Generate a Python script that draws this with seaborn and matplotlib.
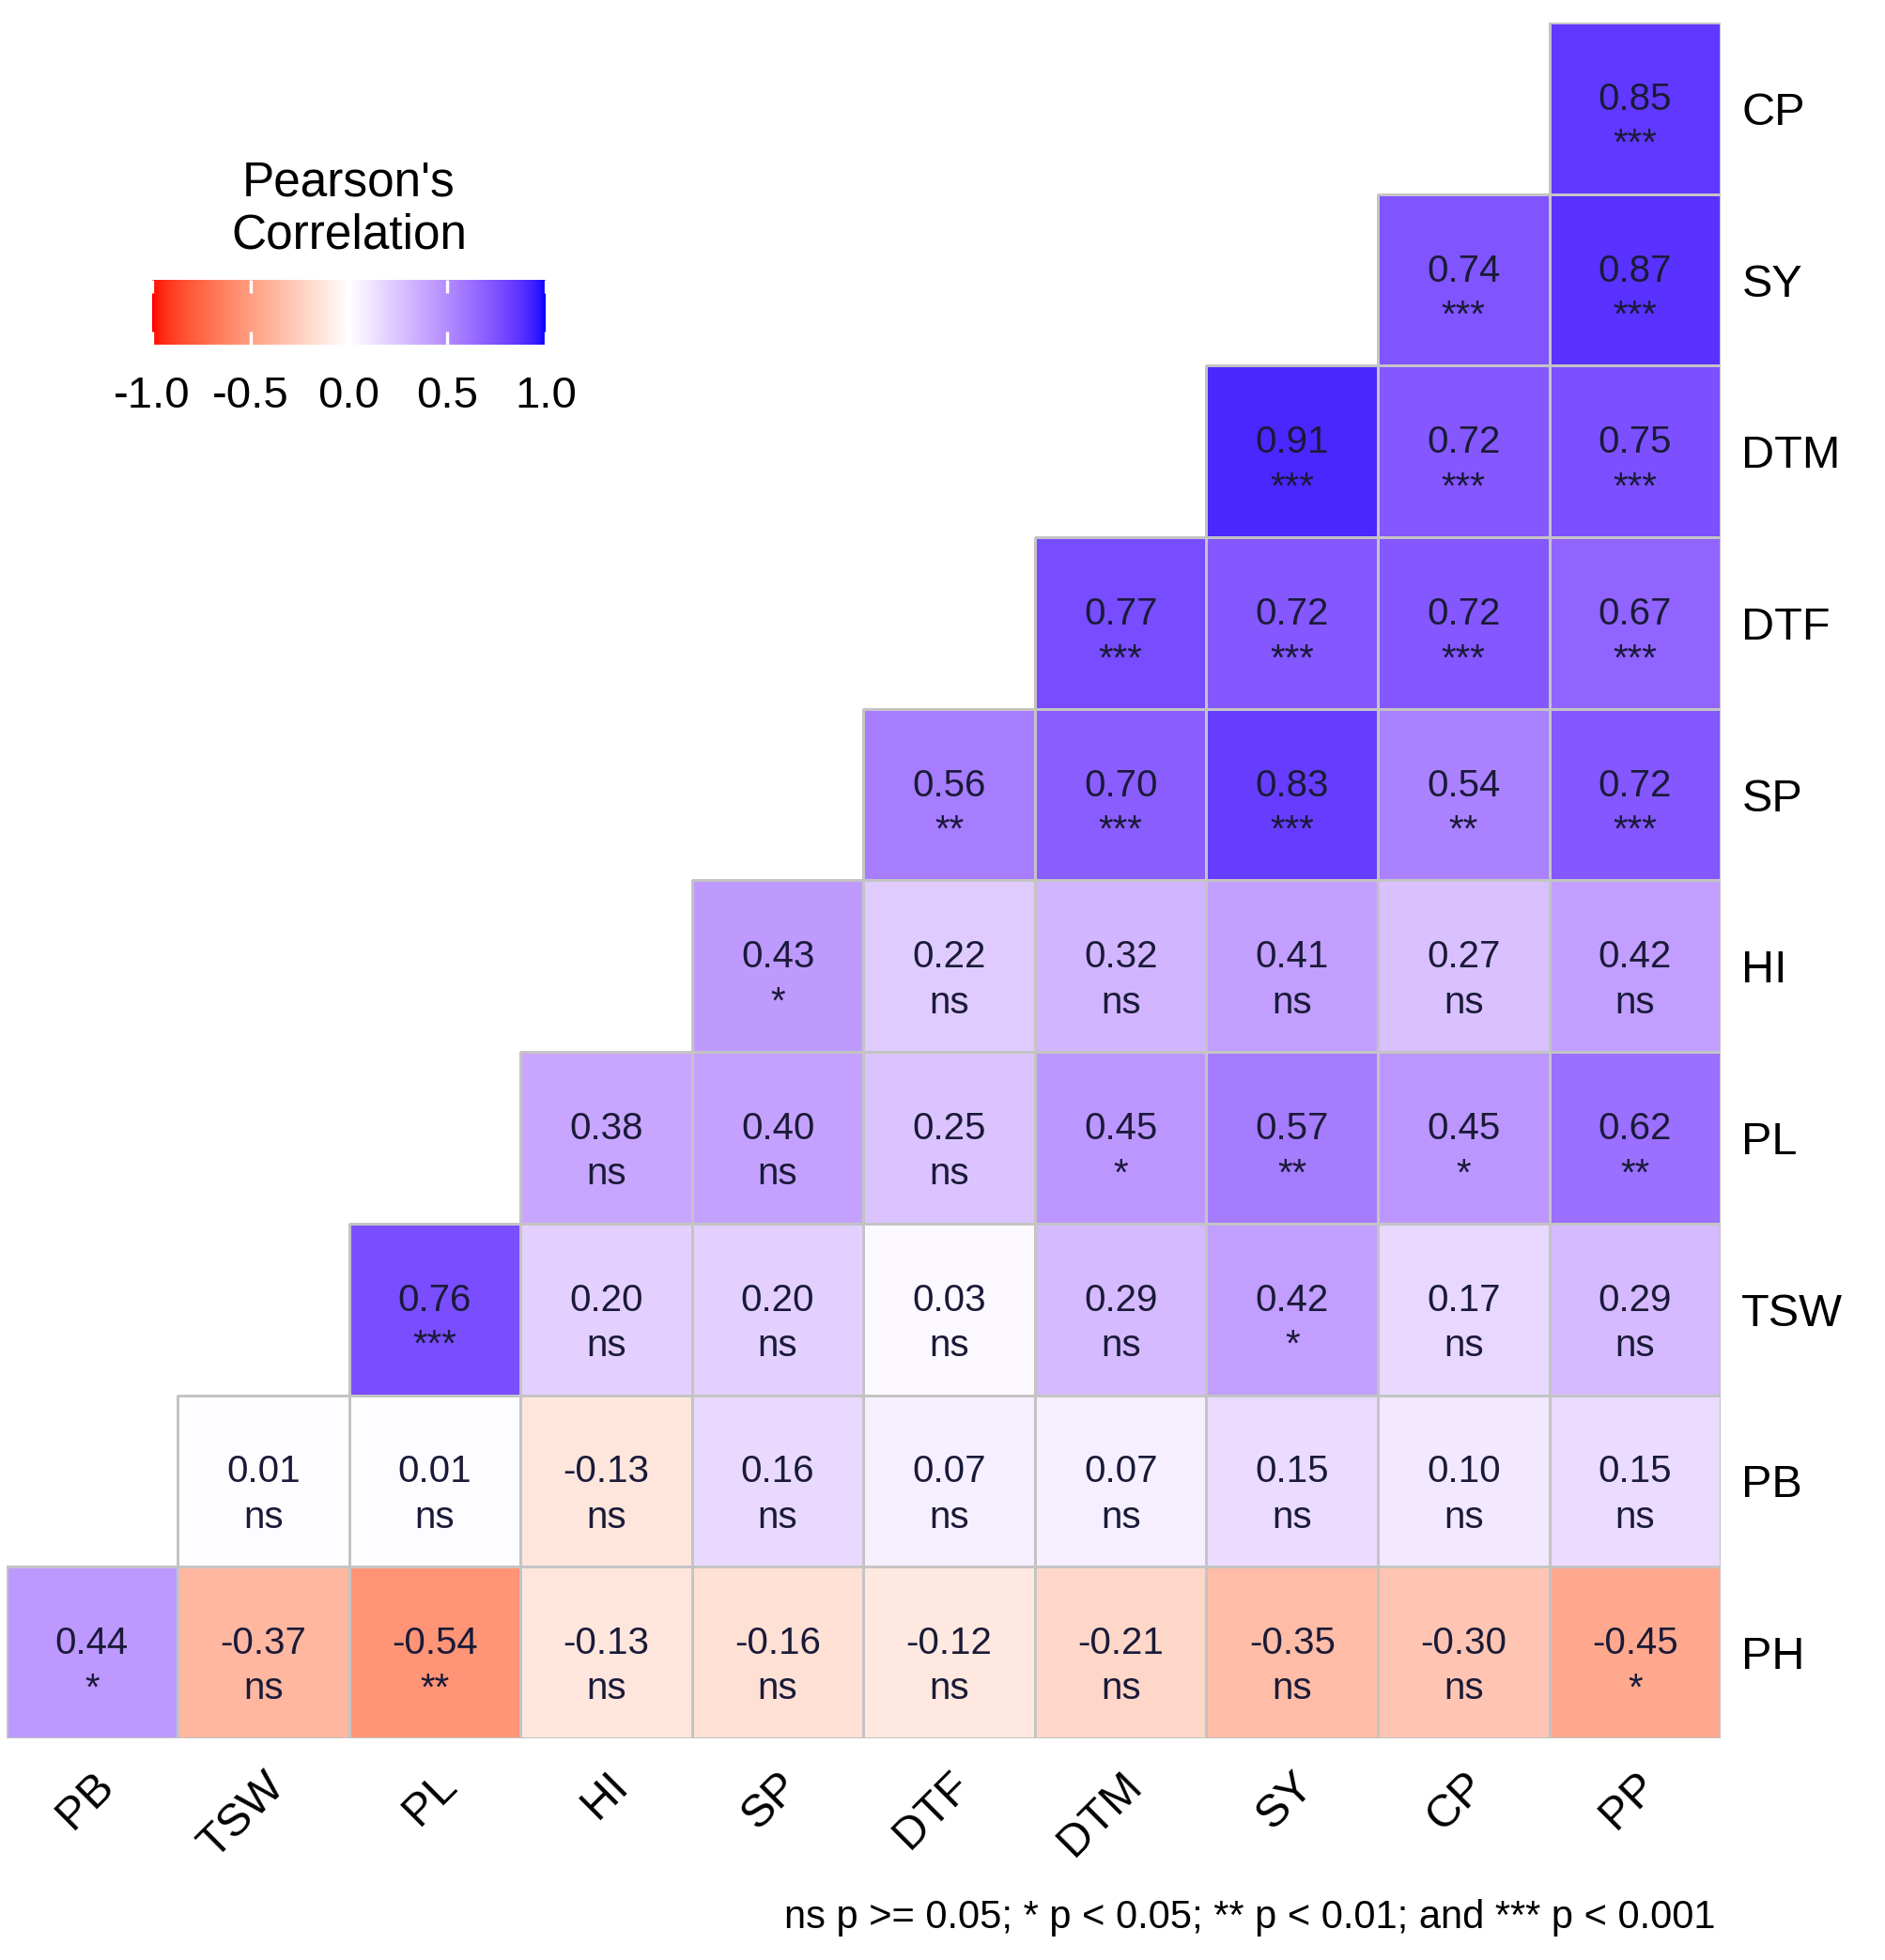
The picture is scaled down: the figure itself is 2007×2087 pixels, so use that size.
#Correlation heatmap (lower triangle) with significance stars

import numpy as np
import pandas as pd
import seaborn as sns
import matplotlib.pyplot as plt
from matplotlib.colors import ListedColormap, to_rgba

plt.rcParams['font.family'] = ['Liberation Sans', 'DejaVu Sans']

#Row and column order as they appear in the chart
rows = ["CP", "SY", "DTM", "DTF", "SP", "HI", "PL", "TSW", "PB", "PH"]
cols = ["PB", "TSW", "PL", "HI", "SP", "DTF", "DTM", "SY", "CP", "PP"]

#Correlation values per row (filled from the right-hand side)
r_CP = [0.85]
r_SY = [0.74, 0.87]
r_DTM = [0.91, 0.72, 0.75]
r_DTF = [0.77, 0.72, 0.72, 0.67]
r_SP = [0.56, 0.70, 0.83, 0.54, 0.72]
r_HI = [0.43, 0.22, 0.32, 0.41, 0.27, 0.42]
r_PL = [0.38, 0.40, 0.25, 0.45, 0.57, 0.45, 0.62]
r_TSW = [0.76, 0.20, 0.20, 0.03, 0.29, 0.42, 0.17, 0.29]
r_PB = [0.01, 0.01, -0.13, 0.16, 0.07, 0.07, 0.15, 0.10, 0.15]
r_PH = [0.44, -0.37, -0.54, -0.13, -0.16, -0.12, -0.21, -0.35, -0.30, -0.45]

#Significance codes per row
s_CP = ["***"]
s_SY = ["***", "***"]
s_DTM = ["***", "***", "***"]
s_DTF = ["***", "***", "***", "***"]
s_SP = ["**", "***", "***", "**", "***"]
s_HI = ["*", "ns", "ns", "ns", "ns", "ns"]
s_PL = ["ns", "ns", "ns", "*", "**", "*", "**"]
s_TSW = ["***", "ns", "ns", "ns", "ns", "*", "ns", "ns"]
s_PB = ["ns"] * 9
s_PH = ["*", "ns", "**", "ns", "ns", "ns", "ns", "ns", "ns", "*"]

r_rows = [r_CP, r_SY, r_DTM, r_DTF, r_SP, r_HI, r_PL, r_TSW, r_PB, r_PH]
s_rows = [s_CP, s_SY, s_DTM, s_DTF, s_SP, s_HI, s_PL, s_TSW, s_PB, s_PH]

n = len(cols)
mat = np.full((n, n), np.nan)
labels = np.full((n, n), "", dtype=object)
for i, (rv, sv) in enumerate(zip(r_rows, s_rows)):
    start = n - len(rv)
    for j, (v, s) in enumerate(zip(rv, sv)):
        mat[i, start + j] = v
        labels[i, start + j] = f"{v:.2f}\n{s}"

df = pd.DataFrame(mat, index=rows, columns=cols)
mask = np.isnan(mat)


#Red - white - blue gradient interpolated in CIELAB (like ggplot2)
def srgb_to_lab(rgb):
    rgb = np.asarray(rgb, dtype=float)
    lin = np.where(rgb <= 0.04045, rgb / 12.92, ((rgb + 0.055) / 1.055) ** 2.4)
    m = np.array([[0.4124, 0.3576, 0.1805],
                  [0.2126, 0.7152, 0.0722],
                  [0.0193, 0.1192, 0.9505]])
    xyz = m @ lin / np.array([0.95047, 1.0, 1.08883])
    f = np.where(xyz > 0.008856, np.cbrt(xyz), 7.787 * xyz + 16 / 116)
    return np.array([116 * f[1] - 16, 500 * (f[0] - f[1]), 200 * (f[1] - f[2])])


def lab_to_srgb(lab):
    L, a, b = lab
    fy = (L + 16) / 116
    fx = fy + a / 500
    fz = fy - b / 200
    f = np.array([fx, fy, fz])
    xyz = np.where(f ** 3 > 0.008856, f ** 3, (f - 16 / 116) / 7.787)
    xyz = xyz * np.array([0.95047, 1.0, 1.08883])
    m = np.array([[3.2406, -1.5372, -0.4986],
                  [-0.9689, 1.8758, 0.0415],
                  [0.0557, -0.2040, 1.0570]])
    lin = m @ xyz
    rgb = np.where(lin <= 0.0031308, 12.92 * lin, 1.055 * np.clip(lin, 0, None) ** (1 / 2.4) - 0.055)
    return np.clip(rgb, 0, 1)


lab_red = srgb_to_lab([1, 0, 0])
lab_white = srgb_to_lab([1, 1, 1])
lab_blue = srgb_to_lab([0, 0, 1])
ramp = []
for t in np.linspace(-1, 1, 256):
    if t < 0:
        lab = lab_white + (lab_red - lab_white) * (-t)
    else:
        lab = lab_white + (lab_blue - lab_white) * t
    ramp.append(lab_to_srgb(lab))
cmap = ListedColormap(ramp)

fig = plt.figure(figsize=(10.04, 10.435), dpi=200)
ax = fig.add_axes([0.0033, 0.1131, 0.9091, 0.8754])
cax = fig.add_axes([0.0807, 0.8241, 0.2087, 0.0331])

sns.heatmap(df, mask=mask, cmap=cmap, vmin=-1, vmax=1,
            annot=labels, fmt="",
            annot_kws={"fontsize": 14.5, "color": "#1a1a38", "linespacing": 1.34},
            linewidths=1.0, linecolor="#C4C4C4",
            ax=ax, cbar_ax=cax,
            cbar_kws={"orientation": "horizontal", "ticks": [-1, -0.5, 0, 0.5, 1]})

#No borders on the empty (masked) cells
mesh = ax.collections[0]
edge = np.tile(to_rgba("#C4C4C4"), (n * n, 1))
edge[mask.ravel(), 3] = 0
mesh.set_edgecolor(edge)

#Nudge the cell labels down a little
for t in ax.texts:
    x, y = t.get_position()
    t.set_position((x, y + 0.08))

#Axis labels: y on the right, x rotated
ax.yaxis.tick_right()
ax.set_yticklabels(rows, rotation=0, fontsize=17.5)
ax.set_xticklabels(cols, rotation=45, ha="right", rotation_mode="anchor", fontsize=17.5)
ax.tick_params(axis="y", length=0, pad=8)
ax.tick_params(axis="x", length=0, pad=10)
ax.set_xlabel("")
ax.set_ylabel("")

#Colour bar styling
cax.set_xticklabels(["-1.0", "-0.5", "0.0", "0.5", "1.0"])
cax.tick_params(axis="x", direction="in", color="white", width=1.2, length=5,
                top=True, bottom=True, labelsize=17, pad=12)
for sp in cax.spines.values():
    sp.set_visible(False)
cax.set_title("Pearson's\nCorrelation", fontsize=18.5, linespacing=1.2, pad=12)

#Significance note
fig.text(0.9094, 1 - 2042 / 2087, "ns p >= 0.05; * p < 0.05; ** p < 0.01; and *** p < 0.001",
         ha="right", va="center", fontsize=15)

plt.savefig("out.png", dpi=200)
